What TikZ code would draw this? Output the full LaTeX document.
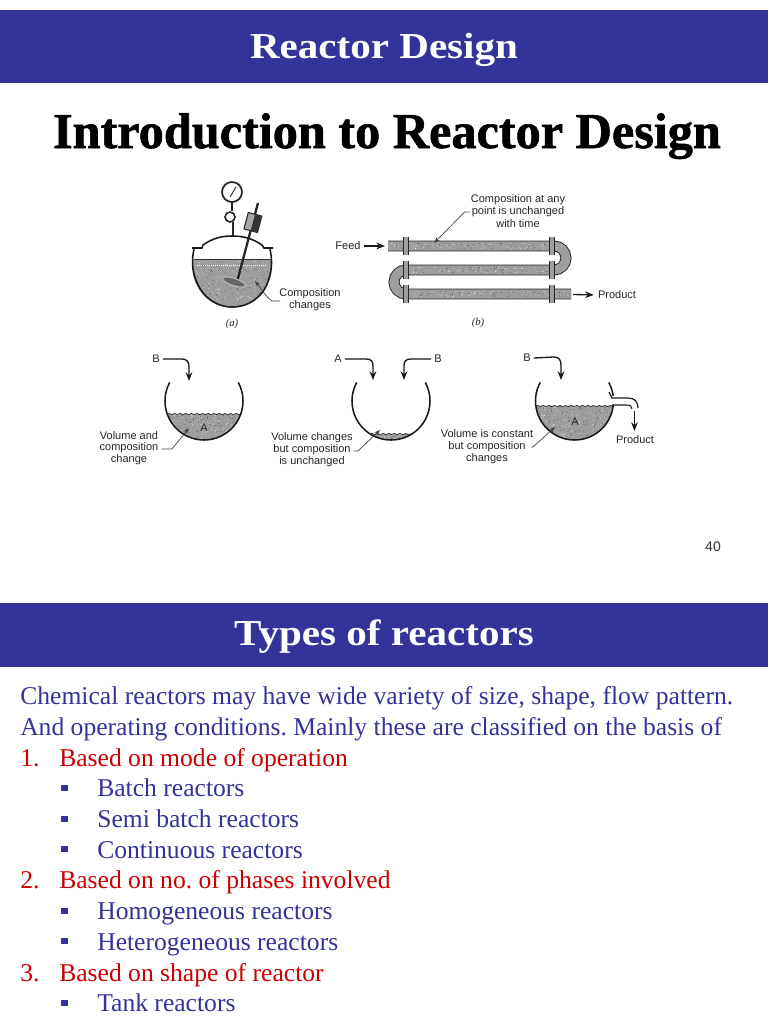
\documentclass[tikz,border=0pt]{standalone}
\usepackage{fontspec}
\usepackage{graphicx}
\setmainfont{Liberation Serif}
\newfontfamily\lab{Liberation Sans}
\newfontfamily\heavyfont[BoldFeatures={FakeBold=1.2}]{Liberation Serif}
\usetikzlibrary{arrows.meta,decorations.pathmorphing}
\frenchspacing
\definecolor{band}{HTML}{333399}
\definecolor{bluetxt}{HTML}{333399}
\definecolor{redtxt}{HTML}{CC0000}
\definecolor{liq}{gray}{0.62}
\newcommand{\speckle}[5]{%
  \foreach \i in {1,...,#5}{%
    \pgfmathsetmacro{\sx}{#1+rnd*(#2-#1)}\pgfmathsetmacro{\sy}{#3+rnd*(#4-#3)}%
    \fill[white,opacity=.55] (\sx,\sy) circle[radius=.6];
    \pgfmathsetmacro{\sx}{#1+rnd*(#2-#1)}\pgfmathsetmacro{\sy}{#3+rnd*(#4-#3)}%
    \fill[black,opacity=.4] (\sx,\sy) circle[radius=.5];
  }}
\tikzset{
  x=.75pt,y=-.75pt,
  bandbox/.style={fill=band,draw=none},
  bandtitle/.style={text=white,font=\fontsize{30.8pt}{33pt}\selectfont\bfseries,anchor=base,inner sep=0pt},
  small/.style={font=\lab\fontsize{8.25pt}{9pt}\selectfont,text=black!85,anchor=center,inner sep=0pt},
  wall/.style={draw=black!90,line width=1.15pt},
  flow/.style={draw=black!90,line width=1pt,-{Stealth[length=6.5pt,width=5pt]}},
  leader/.style={draw=black!75,line width=.5pt,-{Stealth[length=4.5pt,width=3.2pt]}},
  wave/.style={draw=black!80,line width=.55pt,decorate,decoration={snake,segment length=4.2pt,amplitude=.45pt}},
  body/.style={font=\fontsize{19.2pt}{21pt}\selectfont,text=bluetxt,anchor=base west,inner sep=0pt},
  head/.style={font=\fontsize{19.2pt}{21pt}\selectfont,text=redtxt,anchor=base west,inner sep=0pt},
  bul/.style={fill=bluetxt,draw=none,minimum size=5pt,inner sep=0pt,anchor=center}
}
\newcommand{\vessel}[5]{% cx cy level nspeckle endangle
  \pgfmathsetmacro{\halfw}{sqrt(39*39-(#3-#2)*(#3-#2))}
  \pgfmathsetmacro{\wl}{#1-\halfw}
  \pgfmathsetmacro{\wr}{#1+\halfw}
  \begin{scope}
    \clip (#1,#2) circle[radius=39];
    \fill[liq] (\wl,#3) rectangle (\wr,#2+40);
    \speckle{\wl}{\wr}{#3}{#2+39}{#4}
  \end{scope}
  \draw[wave] (\wl,#3) -- (\wr,#3);
  \draw[wall] (#1,#2) ++(208.5:39) arc[start angle=208.5,end angle=#5,radius=39];
}
\begin{document}
\begin{tikzpicture}
\pgfmathsetseed{11}
\useasboundingbox (0,0) rectangle (768,1024);
\clip (0,0) rectangle (768,1024);
\fill[white] (0,0) rectangle (768,1024);
% bands
\fill[bandbox] (0,10) rectangle (768,83);
\fill[bandbox] (0,603) rectangle (768,667);
\node[bandtitle] (t1) at (384,59) {\scalebox{1}[.89]{Reactor Design}};
\node[bandtitle] (t2) at (384,645) {\scalebox{1}[.89]{Types of reactors}};
\node[anchor=base,inner sep=0pt,font=\heavyfont\bfseries\fontsize{37.7pt}{40pt}\selectfont] (bigtitle) at (387,148) {Introduction to Reactor Design};
\node[font=\lab\fontsize{10.5pt}{12pt}\selectfont,text=black!80,inner sep=0pt] (pg) at (713,546.5) {40};

% (a) batch vessel
\begin{scope}
  \clip (232,268) circle[radius=39.5];
  \fill[liq] (190,259) rectangle (275,310);
  \speckle{193}{272}{259}{308}{110}
\end{scope}
\draw[white,line width=.5pt,densely dotted] (197,265) -- (267,265);
\draw[wall] (194,249) .. controls (191,262) and (192,276) .. (201,290) .. controls (210,303) and (222,307) .. (232,307) .. controls (243,307) and (255,303) .. (264,290) .. controls (272,276) and (273,262) .. (270,249);
\draw[wall] (192,248) -- (202,248) -- (203,245) .. controls (213,238) and (222,236) .. (232,236) .. controls (242,236) and (252,238) .. (262,245) -- (264,248) -- (273,248);
\draw[black!80,line width=.4pt] (194,259) -- (271,259);
% gauge
\draw[black!85,line width=1.3pt] (232,192) circle[radius=10];
\draw[black!85,line width=.7pt] (230,197) -- (236,187);
\draw[black!85,line width=1.1pt] (232,202) -- (232,211);
\draw[black!85,line width=1.2pt] (230,217) circle[radius=5];
\draw[black!85,line width=1.1pt] (233,222) -- (233,236);
% stirrer
\draw[black!85,line width=1.7pt] (237,282) -- (258,203);
\fill[black!35,rotate around={-15:(253,222)},draw=black!85,line width=.8pt] (246,214) rectangle (260,231);
\fill[black!80,rotate around={-15:(253,222)}] (253,214) rectangle (260,231);
\draw[fill=black!60,draw=white!75!black,line width=.7pt,rotate around={-18:(234,282)}] (234,282) ellipse[x radius=12,y radius=3.6];
\node[small] (compa) at (310,294) {Composition};
\node[small] (compb) at (310,306) {changes};
\coordinate (compleader) at (280,301);
\coordinate (compliq) at (255,281);
\draw[leader] (compleader) -- (272,301) .. controls (266,297) and (262,290) .. (compliq);
\node[small,font=\fontsize{8pt}{9pt}\selectfont\itshape] (alabel) at (232,324) {(\textit{a})};

% (b) tube
\draw[black!85,line width=8.2pt] (388,246) -- (554,246) arc[start angle=-90,end angle=90,radius=12] -- (406,270) arc[start angle=270,end angle=90,radius=12] -- (571,294);
\draw[liq,line width=6.8pt] (388,246) -- (554,246) arc[start angle=-90,end angle=90,radius=12] -- (406,270) arc[start angle=270,end angle=90,radius=12] -- (571,294);
\speckle{390}{570}{243}{249}{60}
\speckle{412}{548}{267}{273}{55}
\speckle{412}{570}{291}{297}{60}
\foreach \fx in {406,552}{
  \foreach \fy in {246,270,294}{
    \fill[liq] (\fx-2.5,\fy-9) rectangle (\fx+2.5,\fy+9);
    \draw[black!85,line width=.6pt] (\fx-3,\fy-9) -- (\fx-3,\fy+9) (\fx+2.5,\fy-9) -- (\fx+2.5,\fy+9);
  }
}
\node[small] (feed) at (348,246) {Feed};
\coordinate (feedhead) at (385,246);
\draw[flow] (feed.east) ++(3,0) -- (feedhead);
\node[small] (prod) at (617,295) {Product};
\coordinate (prodtail) at (573,294.5);
\draw[flow,shorten >=3pt] (prodtail) -- (prod.west);
\node[small] (cb1) at (518,200) {Composition at any};
\node[small] (cb2) at (518,212) {point is unchanged};
\node[small] (cb3) at (518,224) {with time};
\coordinate (tubept) at (434,243);
\draw[leader] (cb2.west) ++(-2,0) -- ++(-5,0) -- (tubept);
\node[small,font=\fontsize{8pt}{9pt}\selectfont\itshape] (blabel) at (478,323) {(\textit{b})};

% vessel 1
\vessel{204}{401}{414}{90}{-28.5}
\node[small] (v1a) at (204,428) {A};
\node[small] (v1b) at (156,359) {B};
\coordinate (v1head) at (189,381);
\draw[flow] (v1b.east) ++(3,0) -- (182,359) .. controls (187,359) and (189,362) .. (189,367) -- (v1head);
\node[small] (v1l1) at (129,436) {Volume and};
\node[small] (v1l2) at (129,448) {composition};
\node[small] (v1l3) at (129,460) {change};
\coordinate (v1pt) at (189,428);
\draw[leader] (v1l2.east) ++(3,1) -- (172,449) -- (v1pt);

% vessel 2
\vessel{391}{401}{434}{25}{-28.5}
\node[small] (v2la) at (338,359) {A};
\node[small] (v2lb) at (438,359) {B};
\coordinate (v2ha) at (373,380);
\coordinate (v2hb) at (404,380);
\draw[flow] (v2la.east) ++(3,0) -- (366,359) .. controls (371,359) and (373,361) .. (373,366) -- (v2ha);
\draw[flow] (v2lb.west) ++(-3,0) -- (411,359) .. controls (406,359) and (404,361) .. (404,366) -- (v2hb);
\node[small] (v2l1) at (312,438) {Volume changes};
\node[small] (v2l2) at (312,450) {but composition};
\node[small] (v2l3) at (312,462) {is unchanged};
\coordinate (v2pt) at (380,430);
\draw[leader] (v2l2.east) ++(3,1) -- (358,451) -- (v2pt);

% vessel 3
\vessel{574.5}{401}{406}{120}{-28.5}
\node[small] (v3a) at (575,422) {A};
\node[small] (v3b) at (527,358) {B};
\coordinate (v3head) at (561,380);
\draw[flow] (v3b.east) ++(3,0) -- (554,357) .. controls (559,357) and (561,360) .. (561,365) -- (v3head);
\fill[white] (611,396) rectangle (614.5,405);
\draw[black!90,line width=.9pt] (609,392) -- (612,398) -- (628,398) .. controls (635,398) and (638,402) .. (638,408);
\draw[black!90,line width=.8pt] (612,405) -- (626,405) .. controls (630,405) and (632,406) .. (632,409);
\coordinate (spout) at (634.5,411);
\node[small] (v3prod) at (635,440) {Product};
\draw[flow] (spout) -- (634.5,431);
\node[small] (v3l1) at (487,434) {Volume is constant};
\node[small] (v3l2) at (487,447) {but composition};
\node[small] (v3l3) at (487,459) {changes};
\coordinate (v3pt) at (555,427);
\draw[leader] (v3l2.east) ++(5,0) -- (533,447) -- (v3pt);

% list
\node[body] (l1) at (20,704) {Chemical reactors may have wide variety of size, shape, flow pattern.};
\node[body] (l2) at (20,735) {And operating conditions. Mainly these are classified on the basis of};
\node[head] (n1) at (20,766) {1.};
\node[head] (h1) at (59,766) {Based on mode of operation};
\node[bul] (b1) at (64.5,788) {}; \node[body] (s1) at (97,796) {Batch reactors};
\node[bul] (b2) at (64.5,819) {}; \node[body] (s2) at (97,827) {Semi batch reactors};
\node[bul] (b3) at (64.5,849) {}; \node[body] (s3) at (97,858) {Continuous reactors};
\node[head] (n2) at (20,888) {2.};
\node[head] (h2) at (59,888) {Based on no. of phases involved};
\node[bul] (b4) at (64.5,911) {}; \node[body] (s4) at (97,919) {Homogeneous reactors};
\node[bul] (b5) at (64.5,941) {}; \node[body] (s5) at (97,950) {Heterogeneous reactors};
\node[head] (n3) at (20,981) {3.};
\node[head] (h3) at (59,981) {Based on shape of reactor};
\node[bul] (b6) at (64.5,1003) {}; \node[body] (s6) at (97,1011) {Tank reactors};
\end{tikzpicture}
\end{document}
